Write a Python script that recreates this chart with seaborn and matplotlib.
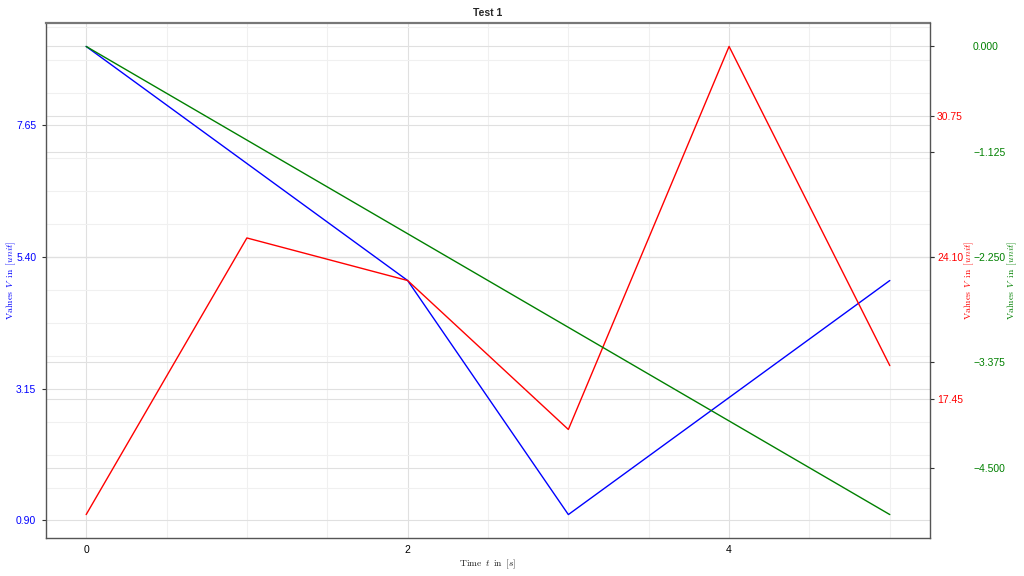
import matplotlib
matplotlib.use('agg')
import matplotlib.pyplot as plt
from matplotlib.ticker import AutoMinorLocator
from matplotlib.lines import Line2D
from matplotlib.transforms import blended_transform_factory
import seaborn as sns
import pandas as pd

# Data
time_s = [0, 1, 2, 3, 4, 5]
values_blue = [9, 7, 5, 1, 3, 5]
values_red = [12, 25, 23, 16, 34, 19]
values_green = [0, -1, -2, -3, -4, -5]

blue_ticks = [0.90, 3.15, 5.40, 7.65]
red_ticks = [17.45, 24.10, 30.75]
green_ticks = [0.0, -1.125, -2.25, -3.375, -4.5]

df = pd.DataFrame({"t": time_s, "blue": values_blue, "red": values_red, "green": values_green})

sns.set_theme(style="white")
plt.rcParams['font.family'] = ['Liberation Sans', 'DejaVu Sans']
plt.rcParams['mathtext.fontset'] = 'cm'

fig = plt.figure(figsize=(10.24, 5.76), dpi=100)
ax1 = fig.add_axes([0.0449, 0.066, 0.8633, 0.894])
ax2 = ax1.twinx()
ax3 = ax1.twinx()

sns.lineplot(data=df, x="t", y="blue", ax=ax1, color="blue", linewidth=1.0)
sns.lineplot(data=df, x="t", y="red", ax=ax2, color="red", linewidth=1.0)
sns.lineplot(data=df, x="t", y="green", ax=ax3, color="green", linewidth=1.0)

ax1.set_xlim(-0.25, 5.25)
ax1.set_ylim(0.6, 9.4)
ax2.set_ylim(10.9, 35.1)
ax3.set_ylim(-5.25, 0.25)

ax1.set_xticks([0, 2, 4])
ax1.set_yticks(blue_ticks)
ax1.set_yticklabels([f"{v:.2f}" for v in blue_ticks])
ax2.set_yticks(red_ticks)
ax2.set_yticklabels([f"{v:.2f}" for v in red_ticks])
ax3.set_yticks(green_ticks)
ax3.set_yticklabels([f"{v:.3f}".replace("-", "\u2212") for v in green_ticks])

ax1.xaxis.set_minor_locator(AutoMinorLocator())
ax1.yaxis.set_minor_locator(AutoMinorLocator())

# grids: all drawn in the bottom axes so they stay under every line
ax1.grid(which="major", color="#e0e0e0", linewidth=0.8)
ax1.grid(which="minor", color="#f0f0f0", linewidth=0.8)
ax1.set_axisbelow(True)
for ax, ticks in ((ax2, red_ticks), (ax3, green_ticks)):
    tr = blended_transform_factory(ax1.transAxes, ax.transData)
    for v in ticks:
        ax1.add_line(Line2D([0, 1], [v, v], transform=tr, color="#e0e0e0",
                            linewidth=0.8, zorder=0.6))

for ax in (ax1, ax2, ax3):
    for s in ax.spines.values():
        s.set_visible(False)
    ax.tick_params(which="major", length=3, width=0.8, color="#333333", labelsize=7.5, direction="out")
    ax.tick_params(which="minor", length=0)
for name in ("left", "bottom"):
    ax1.spines[name].set_visible(True)
    ax1.spines[name].set_color("#555555")
    ax1.spines[name].set_linewidth(1.0)
ax1.spines["top"].set_visible(True)
ax1.spines["top"].set_color("#777777")
ax1.spines["top"].set_linewidth(1.6)
ax2.spines["right"].set_visible(True)
ax2.spines["right"].set_color("#555555")
ax2.spines["right"].set_linewidth(1.0)

ax1.tick_params(axis="y", labelcolor="blue", pad=4)
ax1.tick_params(axis="x", labelcolor="black", pad=2)
ax2.tick_params(axis="y", labelcolor="red", pad=2)
ax3.tick_params(axis="y", labelcolor="green", pad=28)

lab = r"$\mathrm{Values}\ \,V\ \,\mathrm{in}\ \,[unit]$"
ax1.set_ylabel(lab, color="blue", fontsize=7, labelpad=-1.5)
ax2.set_ylabel(lab, color="red", fontsize=7, labelpad=-0.5)
ax3.set_ylabel(lab, color="green", fontsize=7, labelpad=0)
ax1.set_xlabel(r"$\mathrm{Time}\ \,t\ \,\mathrm{in}\ \,[s]$", fontsize=7, labelpad=2)
ax1.set_title("Test 1", fontsize=7.5, fontweight="bold", pad=5)

fig.savefig("out.png", dpi=100)
